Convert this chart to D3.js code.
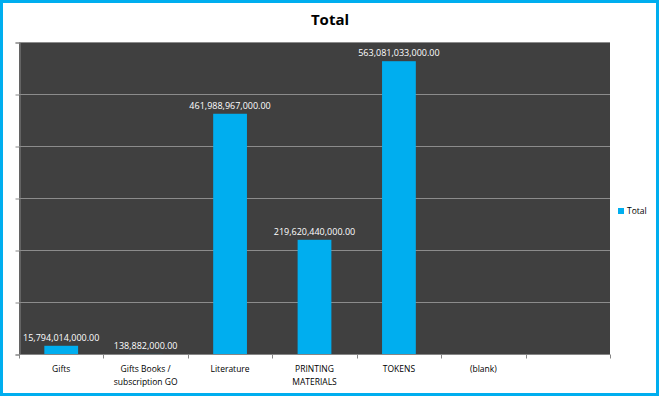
<!DOCTYPE html>
<html>
<head>
<meta charset="utf-8">
<script src="https://cdn.jsdelivr.net/npm/d3@7"></script>
<style>
  body { margin: 0; background: #fff; }
  svg { display: block; font-family: "Open Sans", "DejaVu Sans", sans-serif; }
</style>
</head>
<body>
<svg id="chart" width="660" height="396"></svg>
<script>
// chart data
const categories = ["Gifts", "Gifts Books / subscription GO", "Literature", "PRINTING MATERIALS", "TOKENS", "(blank)", ""];
const totals = [15794014000, 138882000, 461988967000, 219620440000, 563081033000, null, null];
const labels = ["15,794,014,000.00", "138,882,000.00", "461,988,967,000.00", "219,620,440,000.00", "563,081,033,000.00", "", ""];
const categoryLines = [["Gifts"], ["Gifts Books /", "subscription GO"], ["Literature"], ["PRINTING", "MATERIALS"], ["TOKENS"], ["(blank)"], [""]];
const yTicks = [0, 100e9, 200e9, 300e9, 400e9, 500e9, 600e9];

const width = 660, height = 396;
const plot = { left: 19, right: 610, top: 42, bottom: 354 };

const svg = d3.select("#chart");

// outer border
svg.append("rect")
  .attr("x", 1.5).attr("y", 1.5)
  .attr("width", width - 4).attr("height", height - 3)
  .attr("fill", "#fff")
  .attr("stroke", "#00aeef")
  .attr("stroke-width", 3);

// title
svg.append("text")
  .attr("x", 330).attr("y", 25)
  .attr("text-anchor", "middle")
  .attr("font-size", 15)
  .attr("font-weight", "bold")
  .attr("fill", "#000")
  .text("Total");

const x = d3.scaleBand()
  .domain(d3.range(categories.length))
  .range([plot.left, plot.right])
  .paddingInner(0.6)
  .paddingOuter(0.3);

const xEdges = d3.scaleBand()
  .domain(d3.range(categories.length))
  .range([plot.left, plot.right]);

const y = d3.scaleLinear()
  .domain([0, 600e9])
  .range([plot.bottom, plot.top]);

// plot background
svg.append("rect")
  .attr("x", plot.left).attr("y", plot.top)
  .attr("width", plot.right - plot.left)
  .attr("height", plot.bottom - plot.top)
  .attr("fill", "#404040");

// gridlines
svg.append("g")
  .selectAll("line")
  .data(yTicks)
  .enter()
  .append("line")
  .attr("x1", plot.left).attr("x2", plot.right)
  .attr("y1", d => Math.round(y(d)) + 0.5)
  .attr("y2", d => Math.round(y(d)) + 0.5)
  .attr("stroke", "#8c8c8c")
  .attr("stroke-width", 1);

// y axis (ticks only, no labels)
const yAxis = svg.append("g")
  .attr("transform", "translate(" + (plot.left + 0.5) + ",0.5)")
  .call(d3.axisLeft(y).tickValues(yTicks).tickSize(4).tickFormat(""));
yAxis.selectAll("line, path").attr("stroke", "#868686");

// x axis with tick marks at band edges
const xAxis = svg.append("g")
  .attr("transform", "translate(0," + (plot.bottom + 0.5) + ")");
xAxis.append("line")
  .attr("x1", plot.left).attr("x2", plot.right)
  .attr("stroke", "#868686");
xAxis.selectAll("line.tick")
  .data(d3.range(categories.length + 1))
  .enter()
  .append("line")
  .attr("class", "tick")
  .attr("x1", i => Math.round(plot.left + i * xEdges.bandwidth()) + 0.5)
  .attr("x2", i => Math.round(plot.left + i * xEdges.bandwidth()) + 0.5)
  .attr("y1", 0).attr("y2", 4)
  .attr("stroke", "#868686");

// category labels
const catText = svg.append("g")
  .selectAll("text")
  .data(categoryLines)
  .enter()
  .append("text")
  .attr("text-anchor", "middle")
  .attr("font-size", 8.5)
  .attr("fill", "#000");
catText.each(function(lines, i) {
  const cx = xEdges(i) + xEdges.bandwidth() / 2;
  d3.select(this).selectAll("tspan")
    .data(lines)
    .enter()
    .append("tspan")
    .attr("x", cx)
    .attr("y", (d, j) => 372 + j * 13)
    .text(d => d);
});

// bars
const barData = totals.map((v, i) => ({ i, v })).filter(d => d.v !== null);
svg.append("g")
  .selectAll("rect")
  .data(barData)
  .enter()
  .append("rect")
  .attr("x", d => x(d.i))
  .attr("y", d => y(d.v))
  .attr("width", x.bandwidth())
  .attr("height", d => plot.bottom - y(d.v))
  .attr("fill", "#00aeef");

// data labels
svg.append("g")
  .selectAll("text")
  .data(barData)
  .enter()
  .append("text")
  .attr("x", d => x(d.i) + x.bandwidth() / 2)
  .attr("y", d => y(d.v) - 5)
  .attr("text-anchor", "middle")
  .attr("font-size", 9)
  .attr("fill", "#fff")
  .text(d => labels[d.i]);

// legend
const legend = svg.append("g").attr("transform", "translate(618,208)");
legend.append("rect")
  .attr("width", 6).attr("height", 6)
  .attr("fill", "#00aeef");
legend.append("text")
  .attr("x", 9).attr("y", 6)
  .attr("font-size", 8.5)
  .attr("fill", "#000")
  .text("Total");
</script>
</body>
</html>
